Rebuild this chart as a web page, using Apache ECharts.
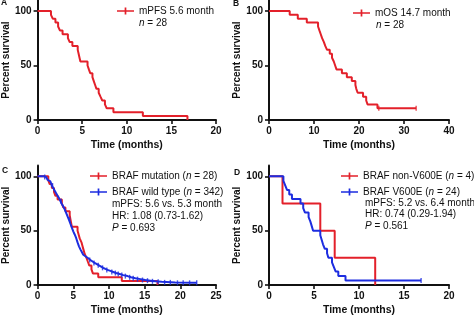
<!DOCTYPE html>
<html>
<head>
<meta charset="utf-8">
<script src="https://cdn.jsdelivr.net/npm/echarts@6/dist/echarts.min.js"></script>
<style>
html, body { margin: 0; padding: 0; background: #fff; }
#chart { width: 474px; height: 322px; }
</style>
</head>
<body>
<div id="chart"></div>
<script>
// ---- Kaplan-Meier step data: event times (months) and survival (%) ----

// A: progression-free survival, BRAF-mutant cohort (n = 28)
const pfsMutT = [0, 1.5, 1.7, 2.0, 2.3, 2.5, 2.8, 3.4, 3.6, 3.9, 4.5, 4.6, 4.7, 4.8, 5.6, 5.75, 5.9, 6.15, 6.3, 6.45, 6.6, 6.85, 7.05, 7.25, 7.55, 7.75, 8.5, 11.8, 16.8];
const pfsMutS = [100, 96.4, 92.9, 89.3, 85.7, 82.1, 78.6, 75.0, 71.4, 67.9, 64.3, 60.7, 57.1, 53.6, 50.0, 46.4, 42.9, 39.3, 35.7, 32.1, 28.6, 25.0, 21.4, 17.9, 14.3, 10.7, 7.1, 3.6, 0];

// B: overall survival, BRAF-mutant cohort (n = 28)
const osMutT = [0, 4.6, 6.4, 8.4, 10.9, 11.2, 11.5, 11.8, 12.2, 12.5, 12.9, 13.5, 14.0, 14.4, 14.7, 15.0, 16.2, 17.3, 18.4, 19.2, 19.4, 19.7, 20.9, 21.6, 21.9, 24.1, 32.7];
const osMutS = [100, 96.4, 92.9, 89.3, 85.7, 82.1, 78.6, 75.0, 71.4, 67.9, 64.3, 60.7, 57.1, 53.6, 50.0, 46.4, 42.9, 39.3, 35.7, 32.1, 28.6, 25.0, 21.4, 17.9, 14.3, 10.7, 10.7];
const osMutCensor = [24.4, 32.7];

// C: progression-free survival, BRAF wild type (n = 342)
const pfsWtT = [0, 0.9, 1.2, 1.4, 1.6, 1.8, 2.0, 2.2, 2.4, 2.6, 2.8, 3.0, 3.2, 3.4, 3.6, 3.8, 4.0, 4.2, 4.4, 4.6, 4.8, 5.0, 5.2, 5.4, 5.6, 5.8, 6.0, 6.2, 6.4, 6.6, 6.8, 7.1, 7.4, 7.7, 8.0, 8.3, 8.6, 8.9, 9.2, 9.5, 9.8, 10.2, 10.6, 11.0, 11.5, 12.0, 12.6, 13.1, 13.7, 14.4, 15.1, 15.8, 16.5, 17.4, 19.3, 22.3];
const pfsWtS = [100, 99.4, 98.2, 96.8, 95.3, 93.6, 91.5, 89.2, 86.8, 84.4, 82.2, 80.0, 77.2, 74.6, 72.2, 69.6, 66.4, 63.2, 60.0, 56.4, 52.9, 49.4, 46.5, 43.3, 39.2, 35.6, 32.8, 30.4, 27.8, 26.0, 24.6, 23.0, 21.6, 20.3, 19.2, 18.1, 17.0, 15.8, 14.8, 13.9, 13.0, 12.0, 11.0, 10.1, 9.1, 8.2, 7.1, 6.2, 5.4, 4.6, 4.0, 3.4, 2.9, 2.4, 2.0, 2.0];
const pfsWtCensor = [1.0, 2.1, 3.3, 4.5, 7.3, 7.9, 8.5, 9.1, 9.7, 10.4, 10.9, 11.3, 11.8, 12.3, 12.9, 13.4, 14.0, 14.7, 15.4, 16.1, 16.9, 17.8, 18.6, 19.6, 20.4, 21.3, 22.3];

// D: progression-free survival by BRAF subtype
const nonV600T = [0, 1.5, 5.7, 7.3, 11.8];
const nonV600S = [100, 75, 50, 25, 0];
const v600T = [0, 1.6, 1.8, 2.0, 2.25, 2.55, 3.5, 3.8, 4.0, 4.4, 4.6, 4.75, 4.9, 5.7, 5.85, 6.0, 6.2, 6.45, 6.6, 7.0, 7.2, 7.4, 7.7, 8.5, 16.9];
const v600S = [100, 95.8, 91.7, 87.5, 83.3, 79.2, 75.0, 70.8, 66.7, 62.5, 58.3, 54.2, 50.0, 45.8, 41.7, 37.5, 33.3, 29.2, 25.0, 20.8, 16.7, 12.5, 8.3, 4.2, 4.2];
const v600Censor = [16.9];

// Axis ranges and tick labels
const yTicks = [0, 50, 100];
const xRanges = [[20, 5], [40, 10], [25, 5], [20, 5]];

// ---- styling ----
const FONT = '"Liberation Sans", Arial, Helvetica, sans-serif';
const INK = '#111111';
const RED = '#e3202a';
const BLUE = '#1d2de0';
const LEGEND_ICON = 'path://M0,3H20V5H0Z M9,0H11V8H9Z';

const pairs = (T, S) => T.map((t, i) => [t, S[i]]);
const survivalAt = (T, S, t) => {
  let v = S[0];
  for (let i = 0; i < T.length; i++) if (T[i] <= t) v = S[i];
  return v;
};

const grids = [
  { left: 36, top: 0, width: 180, height: 120 },
  { left: 269, top: 0, width: 180, height: 120 },
  { left: 36, top: 165.5, width: 180, height: 119.5 },
  { left: 269, top: 165.5, width: 180, height: 119.5 }
];

const axisLine = { show: true, lineStyle: { color: INK, width: 2 } };
const axisTick = { show: true, length: 4, lineStyle: { color: INK, width: 1.6 } };
const tickFont = { color: INK, fontFamily: FONT, fontSize: 10, fontWeight: 'bold' };

const xAxes = xRanges.map(([max, step], i) => ({
  type: 'value', gridIndex: i, min: 0, max: max, interval: step,
  name: 'Time (months)', nameLocation: 'middle', nameGap: 20,
  nameTextStyle: { color: INK, fontFamily: FONT, fontSize: 10.5, fontWeight: 'bold' },
  axisLine, axisTick, splitLine: { show: false },
  axisLabel: Object.assign({ margin: 6 }, tickFont)
}));

const yAxes = grids.map((g, i) => ({
  type: 'value', gridIndex: i, min: 0, max: 110,
  name: 'Percent survival', nameLocation: 'middle', nameRotate: 90,
  nameGap: i % 2 === 0 ? 21 : 22,
  nameTextStyle: { color: INK, fontFamily: FONT, fontSize: 10, fontWeight: 'bold' },
  axisLine, splitLine: { show: false },
  axisTick: Object.assign({ customValues: yTicks }, axisTick),
  axisLabel: Object.assign({ margin: 6, customValues: yTicks }, tickFont)
}));

function kmLine(name, idx, T, S, color, z) {
  return {
    name, type: 'line', xAxisIndex: idx, yAxisIndex: idx, step: 'end',
    data: pairs(T, S), showSymbol: false, symbol: 'none', animation: false,
    lineStyle: { color, width: 2 }, itemStyle: { color }, z: z || 2
  };
}
function censorMarks(name, idx, T, S, times, color, z) {
  return {
    name, type: 'scatter', xAxisIndex: idx, yAxisIndex: idx,
    data: times.map(t => [t, survivalAt(T, S, t)]),
    symbol: 'rect', symbolSize: [1.4, 5], animation: false,
    itemStyle: { color }, z: z || 3, silent: true
  };
}

const legendText = {
  fontFamily: FONT, fontSize: 10, color: INK, lineHeight: 12,
  rich: {
    t: { fontFamily: FONT, fontSize: 10, color: INK },
    i: { fontFamily: FONT, fontSize: 10, color: INK, fontStyle: 'italic' }
  }
};
const legendFmt = name => '{t|' + name.replace('(n', '(}{i|n}{t|') + '}';

function legend(left, top, names) {
  return {
    left, top, orient: 'vertical', itemGap: 4, itemWidth: 17, itemHeight: 7,
    icon: LEGEND_ICON, data: names, selectedMode: false, padding: 0,
    textStyle: legendText, formatter: legendFmt
  };
}

const nameA = 'mPFS 5.6 month';
const nameB = 'mOS 14.7 month';
const nameCm = 'BRAF mutation (n = 28)';
const nameCw = 'BRAF wild type (n = 342)';
const nameDn = 'BRAF non-V600E (n = 4)';
const nameDv = 'BRAF V600E (n = 24)';

function note(x, y, parts) {
  return {
    type: 'text', left: x, top: y,
    style: {
      text: parts, fontFamily: FONT, fontSize: 10, fill: INK,
      rich: {
        t: { fontFamily: FONT, fontSize: 10, fill: INK },
        i: { fontFamily: FONT, fontSize: 10, fill: INK, fontStyle: 'italic' }
      }
    }
  };
}
function letter(x, y, ch) {
  return {
    type: 'text', left: x, top: y,
    style: { text: ch, fontFamily: FONT, fontSize: 8.5, fontWeight: 'bold', fill: INK }
  };
}

const option = {
  backgroundColor: '#ffffff',
  animation: false,
  grid: grids,
  xAxis: xAxes,
  yAxis: yAxes,
  legend: [
    legend(117, 5, [nameA]),
    legend(353, 7, [nameB]),
    legend(90, 170, [nameCm, nameCw]),
    legend(341, 170, [nameDn, nameDv])
  ],
  series: [
    kmLine(nameA, 0, pfsMutT, pfsMutS, RED),
    kmLine(nameB, 1, osMutT, osMutS, RED),
    censorMarks(nameB + ' censored', 1, osMutT, osMutS, osMutCensor, RED),
    kmLine(nameCm, 2, pfsMutT, pfsMutS, RED, 2),
    kmLine(nameCw, 2, pfsWtT, pfsWtS, BLUE, 3),
    censorMarks(nameCw + ' censored', 2, pfsWtT, pfsWtS, pfsWtCensor, BLUE, 4),
    kmLine(nameDn, 3, nonV600T, nonV600S, RED, 2),
    kmLine(nameDv, 3, v600T, v600S, BLUE, 3),
    censorMarks(nameDv + ' censored', 3, v600T, v600S, v600Censor, BLUE, 4)
  ],
  graphic: [
    letter(1, -2, 'A'), letter(233, -1, 'B'), letter(2, 166, 'C'), letter(234, 168, 'D'),
    note(139, 18, '{i|n}{t| = 28}'),
    note(376, 20, '{i|n}{t| = 28}'),
    note(112, 199, '{t|mPFS: 5.6 vs. 5.3 month}'),
    note(112, 211.5, '{t|HR: 1.08 (0.73-1.62)}'),
    note(112, 223.5, '{i|P}{t| = 0.693}'),
    note(365, 198, '{t|mPFS: 5.2 vs. 6.4 month}'),
    note(365, 209.5, '{t|HR: 0.74 (0.29-1.94)}'),
    note(365, 221, '{i|P}{t| = 0.561}')
  ]
};

const chart = echarts.init(document.getElementById('chart'), null, { renderer: 'canvas' });
chart.setOption(option);
</script>
</body>
</html>
